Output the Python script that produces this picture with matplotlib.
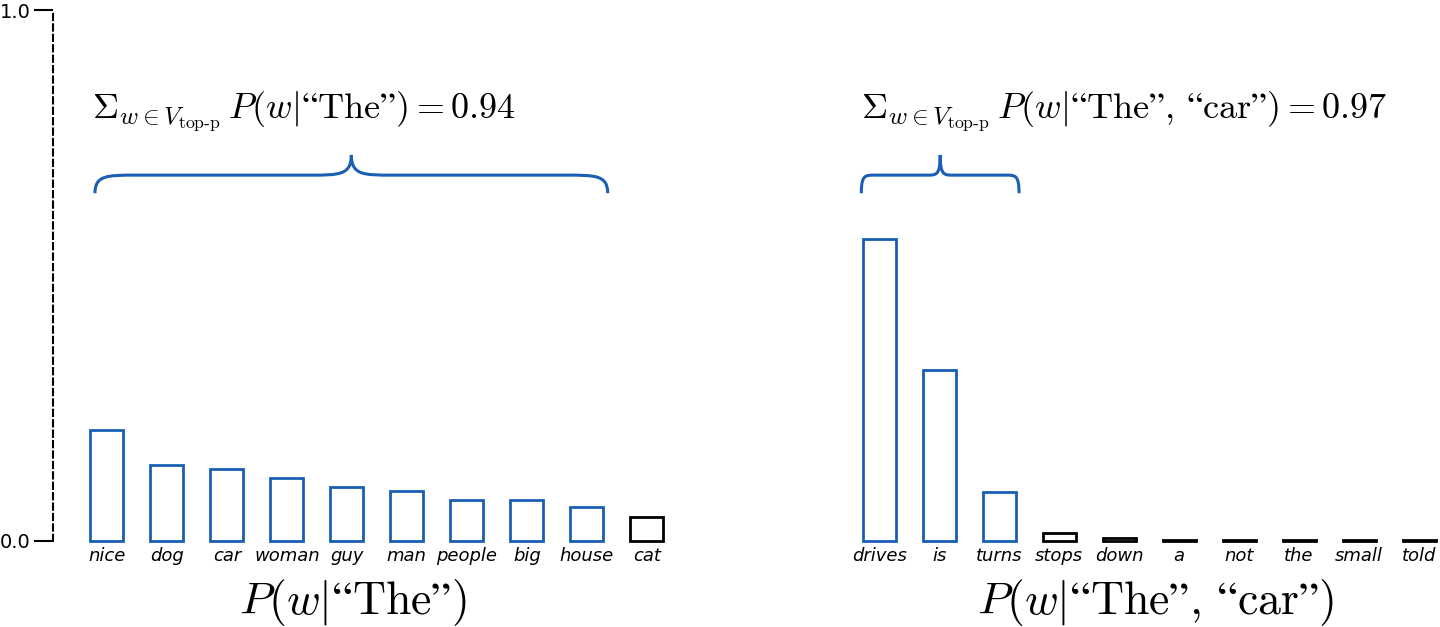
import matplotlib
matplotlib.use("Agg")
import matplotlib.pyplot as plt
from matplotlib.path import Path
from matplotlib.patches import PathPatch
import numpy as np

plt.rcParams['mathtext.fontset'] = 'cm'

left_words = ["nice", "dog", "car", "woman", "guy", "man", "people", "big", "house", "cat"]
left_probs = [0.209, 0.143, 0.136, 0.119, 0.102, 0.094, 0.077, 0.077, 0.064, 0.045]
left_top_p = 9
right_words = ["drives", "is", "turns", "stops", "down", "a", "not", "the", "small", "told"]
right_probs = [0.569, 0.322, 0.092, 0.015, 0.006, 0.001, 0.001, 0.001, 0.001, 0.001]
right_top_p = 3
right_offset = 12.88
blue = "#1a5fb4"

fig = plt.figure(figsize=(14.4, 6.27), dpi=100)
ax = fig.add_axes([53/1440, 86/627, 1 - 53/1440, 531/627])

def draw(words, probs, ntop, off):
    xs = np.arange(len(words)) + off
    cols = [blue if i < ntop else "black" for i in range(len(words))]
    ax.bar(xs, probs, width=0.55, facecolor="white", edgecolor=cols, linewidth=2, clip_on=False)
    for x, w in zip(xs, words):
        ax.text(x, -0.012, w, ha="center", va="top", style="italic", fontsize=13)
    return xs

xl = draw(left_words, left_probs, left_top_p, 0)
xr = draw(right_words, right_probs, right_top_p, right_offset)

def brace(x0, x1, yb, ym, yt):
    xm = (x0 + x1) / 2
    w = x1 - x0
    q = 0.08 * w
    verts = [(x0, yb), (x0, ym), (x0 + q*0.3, ym), (x0 + q, ym),
             (xm - q, ym),
             (xm - q*0.3, ym), (xm, ym), (xm, yt),
             (xm, ym), (xm + q*0.3, ym), (xm + q, ym),
             (x1 - q, ym),
             (x1 - q*0.3, ym), (x1, ym), (x1, yb)]
    codes = [Path.MOVETO, Path.CURVE4, Path.CURVE4, Path.CURVE4, Path.LINETO,
             Path.CURVE4, Path.CURVE4, Path.CURVE4, Path.CURVE4, Path.CURVE4, Path.CURVE4,
             Path.LINETO, Path.CURVE4, Path.CURVE4, Path.CURVE4]
    ax.add_patch(PathPatch(Path(verts, codes), fill=False, edgecolor=blue, lw=2.2, clip_on=False))

brace(xl[0] - 0.2, xl[left_top_p - 1] + 0.35, 0.655, 0.689, 0.727)
brace(xr[0] - 0.3, xr[right_top_p - 1] + 0.33, 0.655, 0.689, 0.727)

ax.text(xl[0] - 0.25, 0.807, r"$\Sigma_{w\in V_{\mathrm{top}\text{-}\mathrm{p}}}\, P(w|\mathrm{“The”}) = 0.94$",
        fontsize=26, ha="left", va="center")
ax.text(xr[0] - 0.3, 0.807, r"$\Sigma_{w\in V_{\mathrm{top}\text{-}\mathrm{p}}}\, P(w|\mathrm{“The”},\,\mathrm{“car”}) = 0.97$",
        fontsize=26, ha="left", va="center")
ax.text(4.1, -0.115, r"$P(w|\mathrm{“The”})$", fontsize=33, ha="center", va="center")
ax.text(right_offset + 4.6, -0.115, r"$P(w|\mathrm{“The”},\,\mathrm{“car”})$", fontsize=33, ha="center", va="center")

ax.set_xlim(-0.9, right_offset + 9.35)
ax.set_ylim(0, 1.0)
for s in ["top", "right", "bottom"]:
    ax.spines[s].set_visible(False)
ax.spines["left"].set_linestyle((0, (3, 2)))
ax.spines["left"].set_linewidth(1.5)
ax.set_xticks([])
ax.set_yticks([0.0, 1.0])
ax.set_yticklabels(["0.0", "1.0"], fontsize=14)
ax.tick_params(axis="y", length=14, width=1.5, pad=2)
for t in ax.yaxis.get_ticklines():
    t.set_linestyle((0, (2, 1)))
fig.savefig("out.png", dpi=100)
